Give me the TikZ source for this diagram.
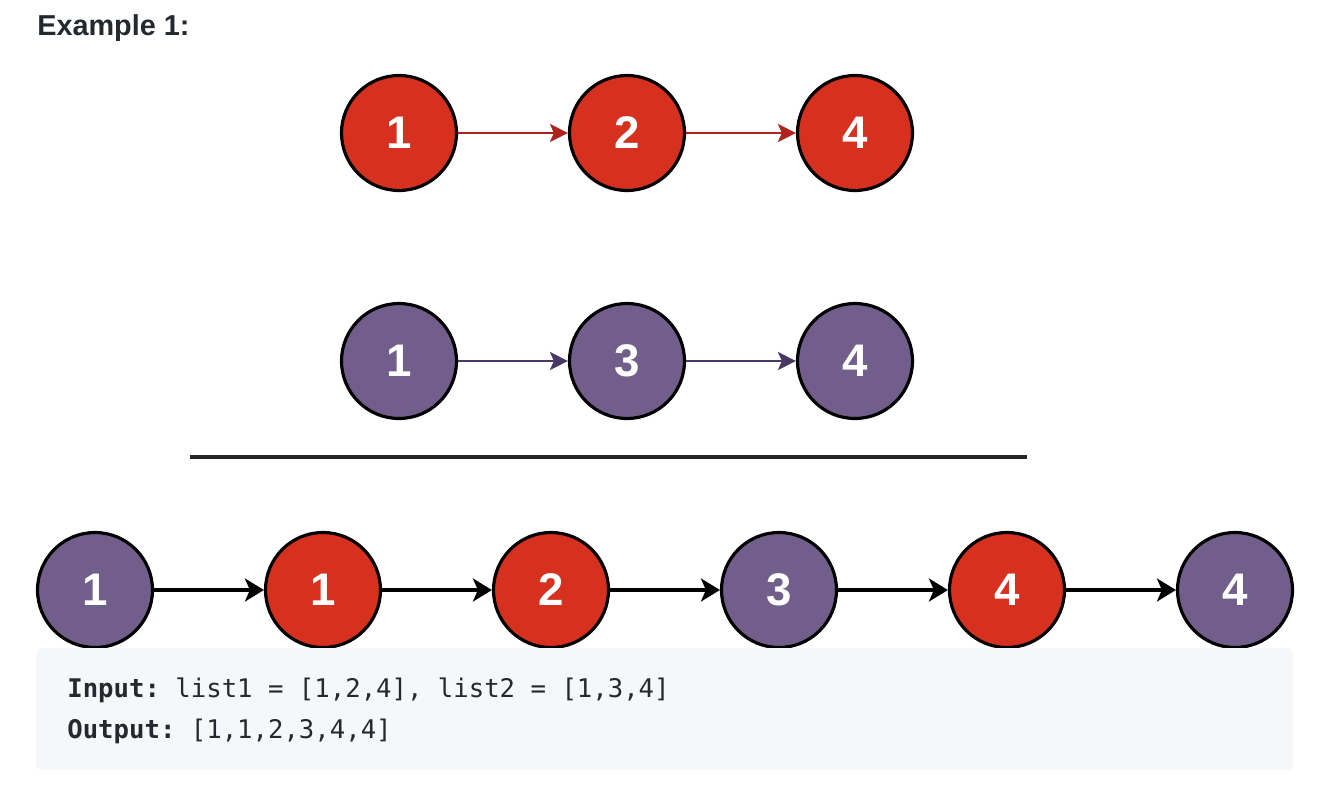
\documentclass[tikz,border=0pt]{standalone}
\usepackage{fontspec}
\setmainfont{Liberation Sans}
\setmonofont{DejaVu Sans Mono}
\usetikzlibrary{arrows.meta}
\definecolor{listred}{RGB}{214,48,31}
\definecolor{listpurple}{RGB}{113,94,138}
\definecolor{redline}{RGB}{175,35,30}
\definecolor{purpleline}{RGB}{72,56,100}
\definecolor{boxgray}{RGB}{246,247,249}
\definecolor{inkdark}{RGB}{36,41,47}

\begin{document}
\begin{tikzpicture}[x=0.02cm,y=-0.02cm,
  ball/.style={circle,draw=black,line width=1.8pt,minimum size=2.3cm,inner sep=0pt,
    text=white,font=\fontsize{26}{26}\selectfont\bfseries},
  redball/.style={ball,fill=listred},
  purpleball/.style={ball,fill=listpurple},
  thinarrow/.style={line width=1.5pt,-{Stealth[length=0.36cm,width=0.36cm,inset=0.08cm]}},
  mergearrow/.style={line width=1.8pt,draw=black,-{Stealth[length=0.38cm,width=0.46cm,inset=0.1cm]}}]
\useasboundingbox (0,0) rectangle (1330,792);

\draw (37,35) node[anchor=base west,inner sep=0pt,text=inkdark,font=\fontsize{16.4}{16}\selectfont\bfseries] (title) {Example 1:};

% list1
\draw (399,133) node[redball] (a1) {1};
\draw (627,133) node[redball] (a2) {2};
\draw (855,133) node[redball] (a4) {4};
\draw[thinarrow,redline] (a1) -- (a2);
\draw[thinarrow,redline] (a2) -- (a4);

% list2
\draw (399,361) node[purpleball] (b1) {1};
\draw (627,361) node[purpleball] (b3) {3};
\draw (855,361) node[purpleball] (b4) {4};
\draw[thinarrow,purpleline] (b1) -- (b3);
\draw[thinarrow,purpleline] (b3) -- (b4);

\draw[line width=1.8pt,draw=black!85] (190,457) coordinate (rulel) -- (1027,457) coordinate (ruler);

% merged
\draw (95,590) node[purpleball] (m1) {1};
\draw (323,590) node[redball] (m2) {1};
\draw (551,590) node[redball] (m3) {2};
\draw (779,590) node[purpleball] (m4) {3};
\draw (1007,590) node[redball] (m5) {4};
\draw (1235,590) node[purpleball] (m6) {4};
\draw[mergearrow] (m1) -- (m2);
\draw[mergearrow] (m2) -- (m3);
\draw[mergearrow] (m3) -- (m4);
\draw[mergearrow] (m4) -- (m5);
\draw[mergearrow] (m5) -- (m6);

\fill[boxgray,rounded corners=0.12cm] (36,648) rectangle (1293,770);
\draw (67,697) node[anchor=base west,inner sep=0pt,text=inkdark,font=\fontsize{14.6}{17}\selectfont\ttfamily] (input) {\textbf{Input:} list1 = [1,2,4], list2 = [1,3,4]};
\draw (67,738) node[anchor=base west,inner sep=0pt,text=inkdark,font=\fontsize{14.6}{17}\selectfont\ttfamily] (output) {\textbf{Output:} [1,1,2,3,4,4]};
\end{tikzpicture}
\end{document}
